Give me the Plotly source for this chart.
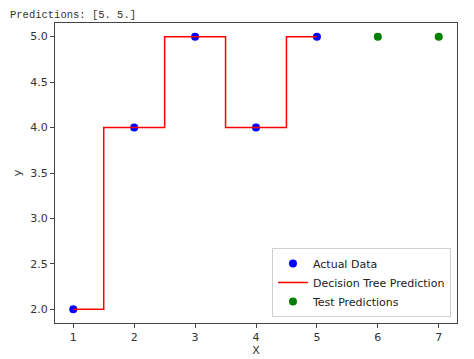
import plotly.graph_objects as go

# Data
X_train = [1, 2, 3, 4, 5]
y_train = [2, 4, 5, 4, 5]
step_x = [1, 1.5, 2.5, 3.5, 4.5, 5]
step_y = [2, 4, 5, 4, 5, 5]
X_test = [6, 7]
y_test_pred = [5, 5]

fig = go.Figure()
fig.add_trace(go.Scatter(x=X_train, y=y_train, mode="markers", name="Actual Data",
                         marker=dict(color="blue", size=8)))
fig.add_trace(go.Scatter(x=step_x, y=step_y, mode="lines", name="Decision Tree Prediction",
                         line=dict(color="red", width=1.5, shape="hv")))
fig.add_trace(go.Scatter(x=X_test, y=y_test_pred, mode="markers", name="Test Predictions",
                         marker=dict(color="green", size=8)))

axis_common = dict(showgrid=False, zeroline=False, showline=True, linecolor="#444",
                   linewidth=1, mirror=True, ticks="outside", ticklen=4, tickcolor="#444",
                   tickfont=dict(size=11, color="#333"), automargin=False)

# page body has an 8px margin, so the figure is sized to fit the window
fig.update_layout(
    width=466, height=351,
    margin=dict(l=47, r=17, t=15, b=36),
    plot_bgcolor="white", paper_bgcolor="white",
    font=dict(family="DejaVu Sans", size=11, color="#333"),
    xaxis=dict(range=[0.7, 7.3], tickvals=[1, 2, 3, 4, 5, 6, 7],
               title=dict(text="X", standoff=2, font=dict(size=11)), **axis_common),
    yaxis=dict(range=[1.85, 5.15], tickvals=[2.0, 2.5, 3.0, 3.5, 4.0, 4.5, 5.0],
               tickformat=".1f", title=dict(text="y", standoff=6, font=dict(size=11)),
               **axis_common),
    legend=dict(x=0.985, y=0.02, xanchor="right", yanchor="bottom",
                bgcolor="rgba(255,255,255,0.8)", bordercolor="#d0d0d0", borderwidth=1,
                font=dict(size=11, color="#222"), itemwidth=30, tracegroupgap=0),
    showlegend=True,
)
fig.add_annotation(text="Predictions: [5. 5.]", xref="paper", yref="paper",
                   x=0, y=1, xanchor="left", yanchor="bottom", showarrow=False,
                   xshift=-47, yshift=0,
                   font=dict(family="Liberation Mono", size=10.5, color="#333"))

fig.write_html("out.html")
